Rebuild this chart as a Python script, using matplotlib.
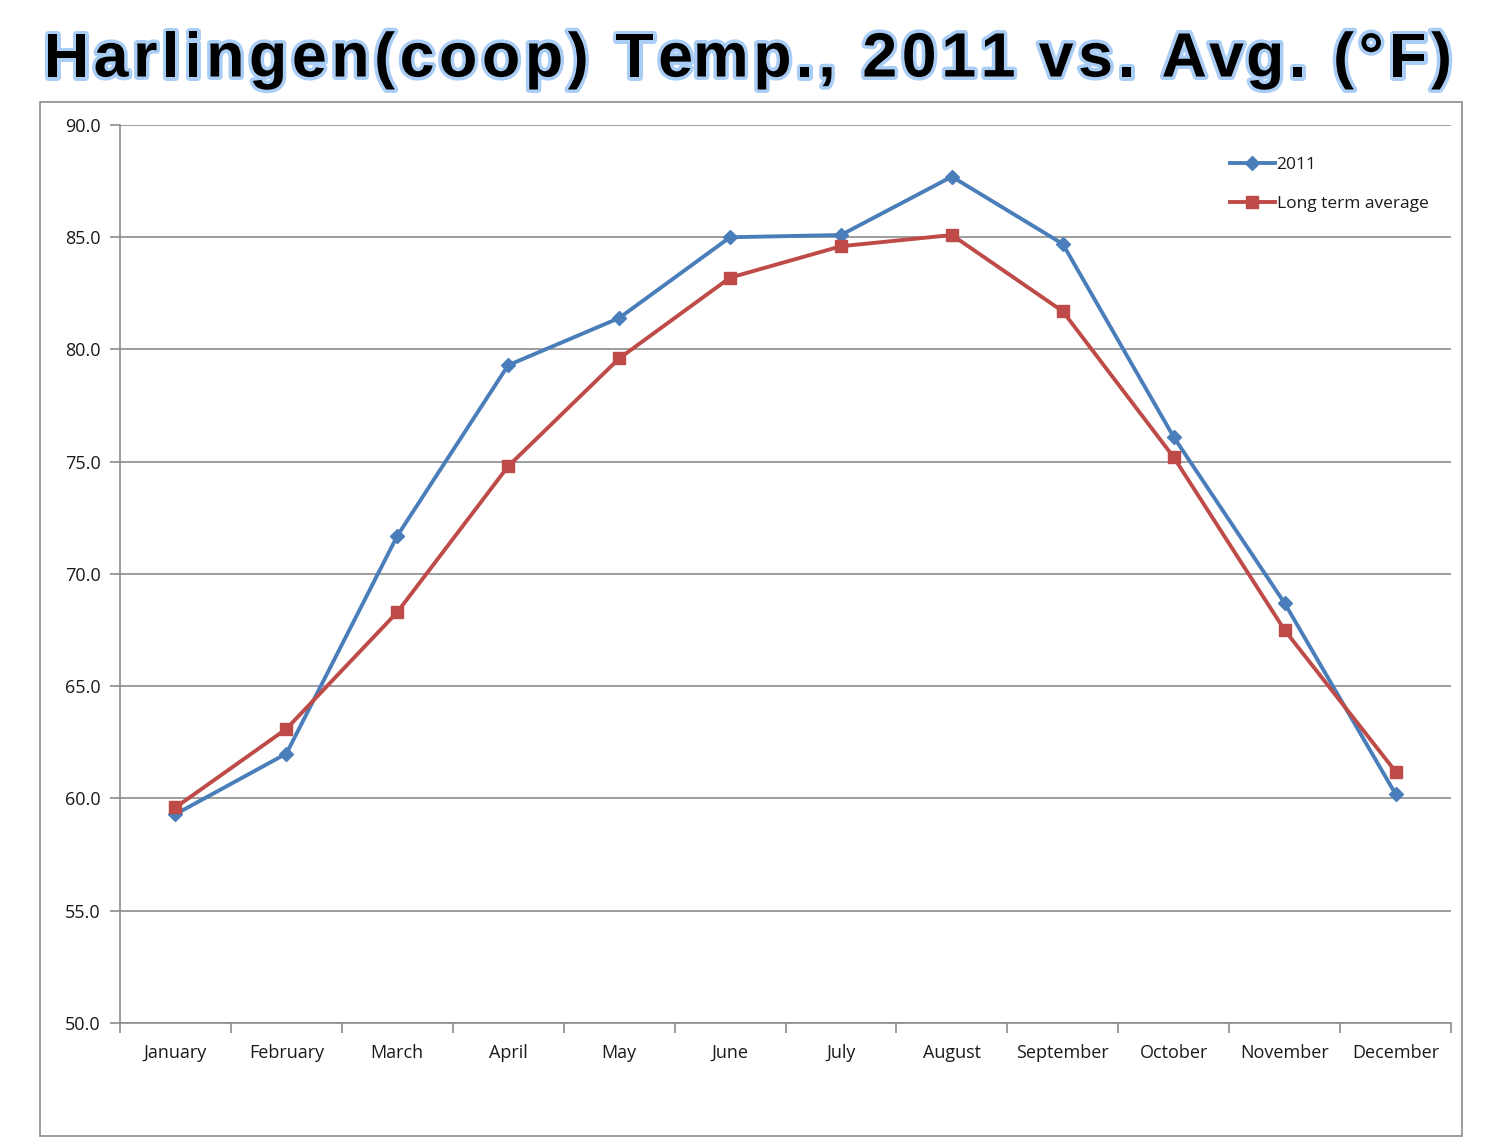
import numpy as np
import matplotlib
matplotlib.use('Agg')
import matplotlib.pyplot as plt
import matplotlib.patheffects as pe
from matplotlib.patches import Rectangle
from matplotlib.font_manager import FontProperties

months = ['January', 'February', 'March', 'April', 'May', 'June',
          'July', 'August', 'September', 'October', 'November', 'December']
temp_2011 = [59.3, 62.0, 71.7, 79.3, 81.4, 85.0, 85.1, 87.7, 84.7, 76.1, 68.7, 60.2]
temp_avg = [59.6, 63.1, 68.3, 74.8, 79.6, 83.2, 84.6, 85.1, 81.7, 75.2, 67.5, 61.2]
y_ticks = [50, 55, 60, 65, 70, 75, 80, 85, 90]
title = 'Harlingen(coop) Temp., 2011 vs. Avg. (°F)'

W, H = 1501, 1137
fig = plt.figure(figsize=(W / 100, H / 100), dpi=100)

# outer chart border
fig.patches.append(Rectangle((40 / W, 1 - 1136 / H), 1422 / W, 1034 / H,
                             transform=fig.transFigure, fill=False,
                             edgecolor='#8c8c8c', linewidth=1.2))

ax = fig.add_axes([120 / W, 1 - 1023 / H, 1331 / W, 898 / H])
x = np.arange(len(months))

ax.plot(x, temp_2011, color='#4a7ebb', linewidth=2.8, marker='D',
        markersize=7, label='2011', zorder=3)
ax.plot(x, temp_avg, color='#be4b48', linewidth=2.8, marker='s',
        markersize=8.5, label='Long term average', zorder=3)

ax.set_xlim(-0.5, 11.5)
ax.set_ylim(50, 90)
ax.set_yticks(y_ticks)
ax.set_yticklabels(['%.1f' % v for v in y_ticks])
ax.set_xticks(x)
ax.set_xticklabels(months)
ax.set_xticks(np.arange(-0.5, 12, 1), minor=True)
ax.tick_params(axis='x', which='major', length=0, pad=15)
ax.tick_params(axis='x', which='minor', length=7, color='#8c8c8c', width=1.2)
ax.tick_params(axis='y', length=7, color='#8c8c8c', width=1.2, pad=7)
for lab in ax.get_xticklabels() + ax.get_yticklabels():
    lab.set_fontfamily('Open Sans')
    lab.set_fontsize(13)
    lab.set_color('#1a1a1a')

ax.grid(axis='y', color='#8c8c8c', linewidth=1.2)
ax.set_axisbelow(True)
for s in ['top', 'right']:
    ax.spines[s].set_visible(False)
for s in ['left', 'bottom']:
    ax.spines[s].set_color('#8c8c8c')
    ax.spines[s].set_linewidth(1.2)

leg = ax.legend(loc='upper left', bbox_to_anchor=(0.822, 0.982), frameon=False,
                prop={'family': 'Open Sans', 'size': 12.5},
                handlelength=2.6, handletextpad=0.1, labelspacing=1.3)
for t in leg.get_texts():
    t.set_color('#1a1a1a')

# title drawn char by char to mimic the wide letter spacing
fp = FontProperties(family='Liberation Sans', weight='bold', size=45)
renderer = fig.canvas.get_renderer()
bar_w = renderer.get_text_width_height_descent('|', fp, ismath=False)[0]
starts = []
for i in range(len(title)):
    w = renderer.get_text_width_height_descent(title[:i] + '|', fp, ismath=False)[0]
    starts.append(w - bar_w)
total = renderer.get_text_width_height_descent(title, fp, ismath=False)[0]
x_start, x_end = 44, 1452
extra = (x_end - x_start - total) / (len(title) - 1)
for i, c in enumerate(title):
    if c == ' ':
        continue
    px = x_start + starts[i] + i * extra
    fig.text(px / W, 1 - 60 / H, c, fontproperties=fp,
             va='center', ha='left', color='black',
             path_effects=[pe.withStroke(linewidth=5, foreground='#a9cdf5')])

fig.savefig('out.png', dpi=100, facecolor='white')
